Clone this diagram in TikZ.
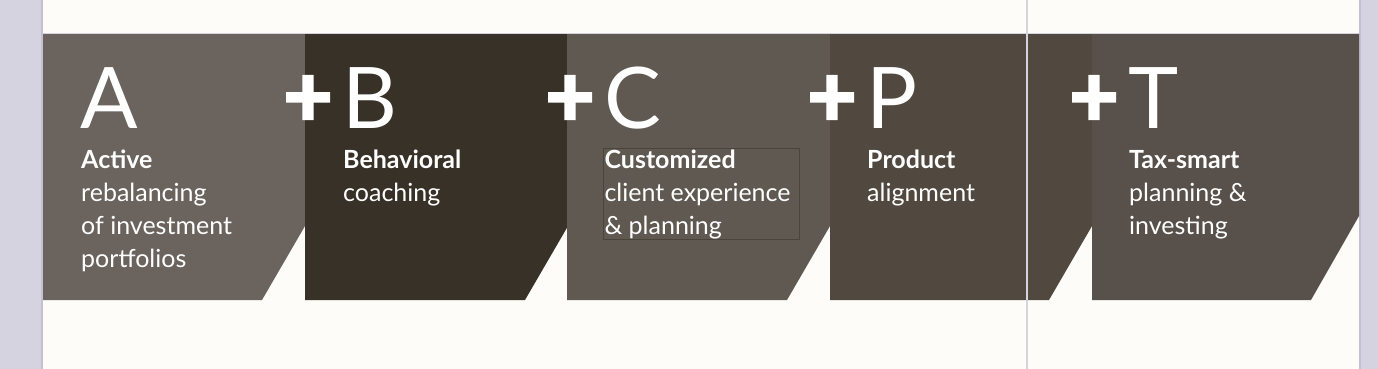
\documentclass[tikz,border=0pt]{standalone}
\usepackage{fontspec}
\setmainfont{Lato}
\newfontfamily\plusfont[FakeBold=3]{Lato}
\usetikzlibrary{positioning}

\definecolor{paper}{HTML}{FDFCF8}
\definecolor{margin}{HTML}{D5D3E0}
\definecolor{marginedge}{HTML}{C2C0D2}
\definecolor{active}{HTML}{6A635E}
\definecolor{behave}{HTML}{383128}
\definecolor{custom}{HTML}{5F5952}
\definecolor{product}{HTML}{51493F}
\definecolor{taxsmart}{HTML}{58504A}
\definecolor{boxline}{HTML}{4B443A}

\tikzset{
  bigletter/.style={anchor=base west, inner sep=0pt, text=white,
    font=\fontsize{85}{85}\selectfont},
  plussign/.style={inner sep=0pt, text=white,
    font=\plusfont\bfseries\fontsize{85}{85}\selectfont},
  blurb/.style={anchor=base west, inner sep=1pt, text=white, align=left,
    font=\fontsize{25}{33}\selectfont},
}

\begin{document}
\begin{tikzpicture}[x=1pt, y=-1pt]
	\fill[paper] (0,0) rectangle (1378,369);
	\useasboundingbox (0,0) rectangle (1378,369);
	% side margins of the page
	\fill[margin] (0,0) rectangle (42,369);
	\fill[margin] (1360,0) rectangle (1378,369);
	\draw[marginedge, line width=1.5pt] (42.2,0) -- (42.2,369);
	\draw[marginedge, line width=1.5pt] (1360.2,0) -- (1360.2,369);
	% the five cards
	\fill[active] (43,34) -- (305,34) -- (305,226) -- (262,300) -- (43,300) -- cycle;
	\fill[behave] (305,34) -- (568,34) -- (568,226) -- (525,300) -- (305,300) -- cycle;
	\fill[custom] (567,34) -- (830,34) -- (830,226) -- (787,300) -- (567,300) -- cycle;
	\fill[product] (830,34) -- (1092,34) -- (1092,226) -- (1049,300) -- (830,300) -- cycle;
	\fill[taxsmart] (1092,34) -- (1359,34) -- (1359,216) -- (1311,300) -- (1092,300) -- cycle;
	\draw[margin, line width=1pt] (43,33.5) -- (1359,33.5);
	\draw[margin, line width=1.5pt] (1027,0) -- (1027,369);
	% letters
	\node[bigletter] (letA) at (80,128) {A};
	\node[bigletter] (letB) at (342,128) {B};
	\node[bigletter] (letC) at (604,128) {C};
	\node[bigletter] (letP) at (866,128) {P};
	\node[bigletter] (letT) at (1128,128) {T};
	% plus signs
	\foreach \x/\n in {308/1, 570/2, 832/3, 1094/4}
		\node[plussign] (plus\n) at (\x,101) {+};
	% descriptions (anchored at the baseline of their last line)
	\node[blurb] (txtA) at (80,267) {\textbf{Active}\\rebalancing\\of investment\\portfolios};
	\node[blurb] (txtB) at (342,201) {\textbf{Behavioral}\\coaching};
	\node[blurb, align=flush left, draw=boxline, line width=1pt, text width=194pt] (txtC) at (603,168) {\textbf{Customized}\\client experience\\\& planning};
	\node[blurb] (txtP) at (866,201) {\textbf{Product}\\alignment};
	\node[blurb] (txtT) at (1128,234) {\textbf{Tax-smart}\\planning \&\\investing};
\end{tikzpicture}
\end{document}
